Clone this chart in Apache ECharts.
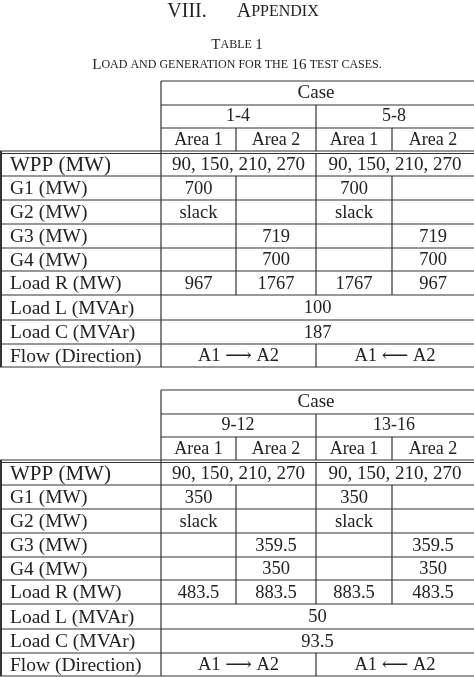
<!DOCTYPE html>
<html><head><meta charset="utf-8">
<script src="https://cdn.jsdelivr.net/npm/echarts@6/dist/echarts.min.js"></script>
<style>html,body{margin:0;padding:0;background:#fff}#c{width:474px;height:677px}</style>
</head><body><div id="c"></div>
<script>
const rowLabels = ["WPP (MW)","G1 (MW)","G2 (MW)","G3 (MW)","G4 (MW)","Load R (MW)","Load L (MVAr)","Load C (MVAr)","Flow (Direction)"];
const caseGroups1 = ["1-4","5-8"];
const caseGroups2 = ["9-12","13-16"];
const areas = ["Area 1","Area 2","Area 1","Area 2"];
// each row: array of [text, startCol, span]
const table1 = [
 [["90, 150, 210, 270",0,2],["90, 150, 210, 270",2,2]],
 [["700",0,1],["",1,1],["700",2,1],["",3,1]],
 [["slack",0,1],["",1,1],["slack",2,1],["",3,1]],
 [["",0,1],["719",1,1],["",2,1],["719",3,1]],
 [["",0,1],["700",1,1],["",2,1],["700",3,1]],
 [["967",0,1],["1767",1,1],["1767",2,1],["967",3,1]],
 [["100",0,4]],
 [["187",0,4]],
 [["A1 ⟶ A2",0,2],["A1 ⟵ A2",2,2]]
];
const table2 = [
 [["90, 150, 210, 270",0,2],["90, 150, 210, 270",2,2]],
 [["350",0,1],["",1,1],["350",2,1],["",3,1]],
 [["slack",0,1],["",1,1],["slack",2,1],["",3,1]],
 [["",0,1],["359.5",1,1],["",2,1],["359.5",3,1]],
 [["",0,1],["350",1,1],["",2,1],["350",3,1]],
 [["483.5",0,1],["883.5",1,1],["883.5",2,1],["483.5",3,1]],
 [["50",0,4]],
 [["93.5",0,4]],
 [["A1 ⟶ A2",0,2],["A1 ⟵ A2",2,2]]
];
const FONT = '"Liberation Serif","DejaVu Serif",serif';
const colX = [161,236,316,392,474];
const rowY = [153,176,200,224,248,271,295,320,344,367];
const els = [];
function line(x1,y1,x2,y2,w){els.push({type:'line',shape:{x1,y1,x2,y2},style:{stroke:'#333',lineWidth:w||1.2}});}
function text(t,x,y,align,size){els.push({type:'text',x,y,style:{text:t,font:(size||17)+'px '+FONT,fill:'#222',align:align||'center',verticalAlign:'middle'}});}
function drawTable(dy,groups,data){
  const Y=v=>v+dy;
  line(161,Y(81),474,Y(81));
  line(161,Y(105),474,Y(105));
  line(161,Y(128),474,Y(128));
  line(161,Y(81),161,Y(151));
  line(316,Y(105),316,Y(151));
  line(236,Y(128),236,Y(151));
  line(392,Y(128),392,Y(151));
  text("Case",316,Y(93),'center',19);
  text(groups[0],238,Y(116),'center',18);text(groups[1],394,Y(116),'center',18);
  for(let i=0;i<4;i++) text(areas[i],(colX[i]+colX[i+1])/2,Y(140),'center',18);
  line(0,Y(151),474,Y(151));
  line(0,Y(153.5),474,Y(153.5));
  line(1,Y(151),1,Y(367),2);
  line(161,Y(151),161,Y(367));
  for(let r=0;r<data.length;r++){
    const y0=rowY[r],y1=rowY[r+1];
    line(0,Y(y1),474,Y(y1));
    text(rowLabels[r],10,Y((y0+y1)/2+1),'left',r===0?21:19.5);
    data[r].forEach(([t,c,s])=>{
      if(c>0) line(colX[c],Y(y0),colX[c],Y(y1));
      const cx=(colX[c]+colX[c+s])/2;
      if(t) text(t,cx,Y((y0+y1)/2+1),'center',r===0?19:18.5);
    });
  }
}
els.push({type:'text',x:243,y:12,style:{rich:{a:{font:'20px '+FONT,fill:'#222'},b:{font:'16px '+FONT,fill:'#222'}},text:'{a|VIII.      A}{b|PPENDIX}',align:'center',verticalAlign:'middle'}});
els.push({type:'text',x:237,y:45,style:{rich:{a:{font:'15px '+FONT,fill:'#222'},b:{font:'12px '+FONT,fill:'#222'}},text:'{a|T}{b|ABLE} {a|1}',align:'center',verticalAlign:'middle'}});
els.push({type:'text',x:237,y:65,style:{rich:{a:{font:'15px '+FONT,fill:'#222'},b:{font:'12px '+FONT,fill:'#222'}},text:'{a|L}{b|OAD AND GENERATION FOR THE} {a|16} {b|TEST CASES.}',align:'center',verticalAlign:'middle'}});
drawTable(0,caseGroups1,table1);
drawTable(309,caseGroups2,table2);
const chart=echarts.init(document.getElementById('c'));
chart.setOption({animation:false,graphic:{elements:els}});
</script></body></html>
